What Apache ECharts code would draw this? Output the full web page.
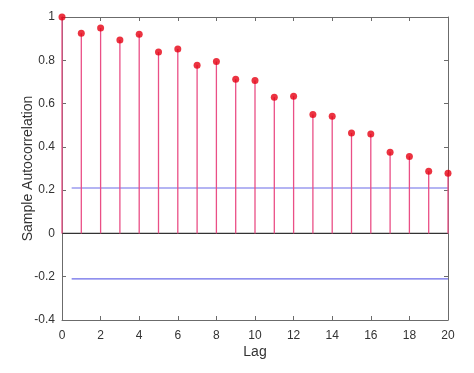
<!DOCTYPE html>
<html><head><meta charset="utf-8">
<script src="https://cdn.jsdelivr.net/npm/echarts@6/dist/echarts.min.js"></script>
<style>html,body{margin:0;padding:0;background:#fff}#c{width:474px;height:373px}</style>
</head><body><div id="c"></div>
<script>
const lags = [0,1,2,3,4,5,6,7,8,9,10,11,12,13,14,15,16,17,18,19,20];
const acf = [1.0,0.925,0.949,0.894,0.920,0.838,0.852,0.777,0.794,0.712,0.707,0.629,0.634,0.549,0.541,0.464,0.459,0.375,0.356,0.287,0.278];
const bound = 0.21;
const boundStart = 0.5;
const xTicks = [0,2,4,6,8,10,12,14,16,18,20];
const yTicks = [-0.4,-0.2,0,0.2,0.4,0.6,0.8,1];

const chart = echarts.init(document.getElementById('c'));
const pts = lags.map((l,i)=>[l, acf[i]]);
const font = 'Liberation Sans, Helvetica, Arial, sans-serif';
const axisCommon = {
  axisLine:{show:true,onZero:false,lineStyle:{color:'#6b6b6b',width:1}},
  axisTick:{inside:true,length:4,lineStyle:{color:'#6b6b6b'}},
  splitLine:{show:false}
};
chart.setOption({
  animation:false,
  grid:{left:62,top:17,right:26,bottom:53,show:false},
  xAxis:[
    Object.assign({type:'value',min:0,max:20,interval:2,position:'bottom',
      name:'Lag',nameLocation:'middle',nameGap:25,nameMoveOverlap:false,
      nameTextStyle:{fontFamily:font,fontSize:14,color:'#333'},
      axisLabel:{fontFamily:font,fontSize:12,color:'#333',margin:10}},axisCommon),
    Object.assign({type:'value',min:0,max:20,interval:2,position:'top',axisLabel:{show:false}},axisCommon)
  ],
  yAxis:[
    Object.assign({type:'value',min:-0.4,max:1,interval:0.2,position:'left',
      name:'Sample Autocorrelation',nameLocation:'middle',nameGap:27,nameMoveOverlap:false,
      nameTextStyle:{fontFamily:font,fontSize:14,color:'#333'},
      axisLabel:{fontFamily:font,fontSize:12,color:'#333',margin:7,
        formatter:v=>String(Math.round(v*10)/10)}},axisCommon),
    Object.assign({type:'value',min:-0.4,max:1,interval:0.2,position:'right',axisLabel:{show:false}},axisCommon)
  ],
  series:[
    {type:'line',data:[[0,0],[20,0]],symbol:'none',lineStyle:{color:'#333',width:1.2},z:1},
    {type:'line',data:[[boundStart,bound],[20,bound]],symbol:'none',lineStyle:{color:'#6b6be8',width:1.2},z:2},
    {type:'line',data:[[boundStart,-bound],[20,-bound]],symbol:'none',lineStyle:{color:'#6b6be8',width:1.2},z:2},
    {type:'custom',data:pts,z:3,renderItem:(params,api)=>{
      const p0=api.coord([api.value(0),0]);
      const p1=api.coord([api.value(0),api.value(1)]);
      return {type:'line',shape:{x1:p0[0],y1:p0[1],x2:p1[0],y2:p1[1]},
        style:{stroke:'#ea4f86',lineWidth:1.3}};
    }},
    {type:'scatter',data:pts,symbol:'circle',symbolSize:7,itemStyle:{color:'#e60012'},z:4}
  ]
});
</script></body></html>
